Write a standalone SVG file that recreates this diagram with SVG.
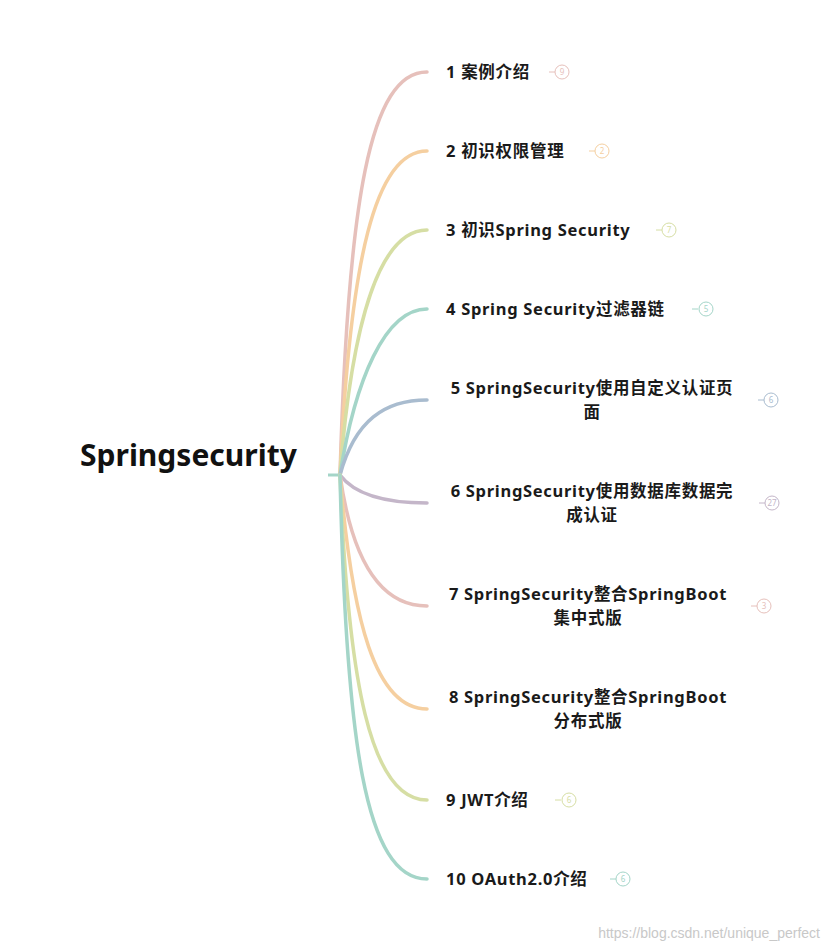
<svg xmlns="http://www.w3.org/2000/svg" width="830" height="951" viewBox="0 0 830 951">
<style>
.t{font-family:"Noto Sans","Noto Sans CJK SC",sans-serif;font-size:16.5px;letter-spacing:0.7px;font-weight:bold;fill:#1a1a1a}
.c{text-anchor:middle}
.b{fill:#fff;stroke-width:1}
.n{font-family:"Noto Sans",sans-serif;font-size:8px;text-anchor:middle}
path{fill:none;stroke-width:3.5;stroke-linecap:round}
</style>
<rect width="830" height="951" fill="#fff"/>
<g id="root"><text x="80" y="466" font-family="Noto Sans, sans-serif" font-size="30" font-weight="bold" fill="#111">Springsecurity</text></g>
<g id="connectors">
<line x1="328" y1="475" x2="341" y2="475" stroke="#a4d5c8" stroke-width="3"/>
<path d="M340 475 C348 200 370 72 427 72" stroke="#e6c0bb"/>
<path d="M340 475 C350 260 375 151 427 151" stroke="#f5cfa0"/>
<path d="M340 475 C352 320 380 230 427 230" stroke="#d6dea4"/>
<path d="M340 475 C355 380 385 309 427 309" stroke="#a4d5c8"/>
<path d="M340 475 C355 420 385 400 427 400" stroke="#a9bccf"/>
<path d="M340 475 C355 495 385 503 427 503" stroke="#c4b6c9"/>
<path d="M340 475 C352 560 380 606 427 606" stroke="#e6c0bb"/>
<path d="M340 475 C352 620 375 709 427 709" stroke="#f5cfa0"/>
<path d="M340 475 C348 680 370 800 427 800" stroke="#d6dea4"/>
<path d="M340 475 C346 740 365 879 427 879" stroke="#a4d5c8"/>
</g>
<g id="n1"><text class="t" x="446" y="78">1 案例介绍</text><line x1="549" y1="72" x2="555" y2="72" stroke="#e6c0bb"/><circle class="b" cx="562" cy="72" r="7" stroke="#e6c0bb"/><text class="n" x="562" y="75" fill="#e6c0bb">9</text></g>
<g id="n2"><text class="t" x="446" y="157">2 初识权限管理</text><line x1="589" y1="151" x2="595" y2="151" stroke="#f5cfa0"/><circle class="b" cx="602" cy="151" r="7" stroke="#f5cfa0"/><text class="n" x="602" y="154" fill="#f5cfa0">2</text></g>
<g id="n3"><text class="t" x="446" y="236">3 初识Spring Security</text><line x1="656" y1="230" x2="662" y2="230" stroke="#d6dea4"/><circle class="b" cx="669" cy="230" r="7" stroke="#d6dea4"/><text class="n" x="669" y="233" fill="#d6dea4">7</text></g>
<g id="n4"><text class="t" x="446" y="315">4 Spring Security过滤器链</text><line x1="692" y1="309" x2="698" y2="309" stroke="#a4d5c8"/><circle class="b" cx="706" cy="309" r="7" stroke="#a4d5c8"/><text class="n" x="706" y="312" fill="#a4d5c8">5</text></g>
<g id="n5"><text class="t c" x="592" y="394">5 SpringSecurity使用自定义认证页</text><text class="t c" x="592" y="418">面</text><line x1="758" y1="400" x2="764" y2="400" stroke="#a9bccf"/><circle class="b" cx="771" cy="400" r="7" stroke="#a9bccf"/><text class="n" x="771" y="403" fill="#a9bccf">6</text></g>
<g id="n6"><text class="t c" x="592" y="497">6 SpringSecurity使用数据库数据完</text><text class="t c" x="592" y="521">成认证</text><line x1="759" y1="503" x2="765" y2="503" stroke="#c4b6c9"/><circle class="b" cx="772" cy="503" r="7" stroke="#c4b6c9"/><text class="n" x="772" y="506" fill="#c4b6c9">27</text></g>
<g id="n7"><text class="t c" x="588" y="600">7 SpringSecurity整合SpringBoot</text><text class="t c" x="588" y="624">集中式版</text><line x1="751" y1="606" x2="757" y2="606" stroke="#e6c0bb"/><circle class="b" cx="764" cy="606" r="7" stroke="#e6c0bb"/><text class="n" x="764" y="609" fill="#e6c0bb">3</text></g>
<g id="n8"><text class="t c" x="588" y="703">8 SpringSecurity整合SpringBoot</text><text class="t c" x="588" y="727">分布式版</text></g>
<g id="n9"><text class="t" x="446" y="806">9 JWT介绍</text><line x1="555" y1="800" x2="561" y2="800" stroke="#d6dea4"/><circle class="b" cx="569" cy="800" r="7" stroke="#d6dea4"/><text class="n" x="569" y="803" fill="#d6dea4">6</text></g>
<g id="n10"><text class="t" x="446" y="885">10 OAuth2.0介绍</text><line x1="610" y1="879" x2="616" y2="879" stroke="#a4d5c8"/><circle class="b" cx="623" cy="879" r="7" stroke="#a4d5c8"/><text class="n" x="623" y="882" fill="#a4d5c8">6</text></g>
<text x="820" y="938" text-anchor="end" font-family="Liberation Sans, sans-serif" font-size="14" fill="#c8c8c8">https://blog.csdn.net/unique_perfect</text>
</svg>
